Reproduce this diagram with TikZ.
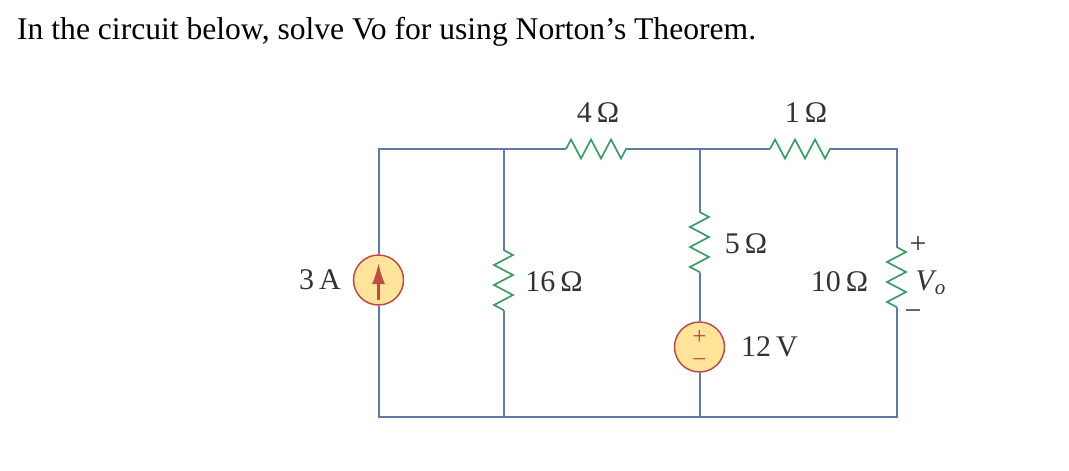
\documentclass[tikz,border=0pt]{standalone}
\usepackage{xcolor}
\usepackage{fontspec}
\setmainfont{Liberation Serif}
\usetikzlibrary{arrows.meta,decorations.pathmorphing}
\definecolor{wirecol}{HTML}{5F7AA3}
\definecolor{rescol}{HTML}{3F9A68}
\definecolor{srccol}{HTML}{C04A45}
\definecolor{srcfill}{HTML}{FFE49A}
\definecolor{txtcol}{HTML}{333333}
\tikzset{>=Latex}

\begin{document}
\begin{tikzpicture}[x=1pt,y=-1pt,
wire/.style={draw=wirecol, line width=2pt},
resistor/.style={draw=rescol, line width=1.7pt, decorate, decoration={zigzag, segment length=20pt, amplitude=9.5pt}},
source/.style={circle, draw=srccol, fill=srcfill, line width=1.5pt, minimum size=50pt, inner sep=0pt},
value/.style={text=txtcol, font=\fontsize{30}{30}\selectfont, inner sep=0pt},
sign/.style={text=srccol, inner sep=0pt, font=\fontsize{25}{25}\selectfont},
]
\useasboundingbox (0,0) rectangle (1069,471);
%Title
\node[anchor=base west, inner sep=0pt, font=\fontsize{31.6}{32}\selectfont](Title) at (17,39) {In the circuit below, solve Vo for using Norton’s Theorem.};

%Corners and junctions
\coordinate (TopLeft) at (378.5,149);
\coordinate (TopA) at (503.5,149);
\coordinate (TopB) at (699.5,149);
\coordinate (TopRight) at (896.5,149);
\coordinate (BotLeft) at (378.5,417);
\coordinate (BotA) at (503.5,417);
\coordinate (BotB) at (699.5,417);
\coordinate (BotRight) at (896.5,417);

%Resistor ends
\coordinate (R4a) at (566,149);
\coordinate (R4b) at (628,149);
\coordinate (R1a) at (770,149);
\coordinate (R1b) at (832,149);
\coordinate (R16a) at (503.5,250);
\coordinate (R16b) at (503.5,311);
\coordinate (R5a) at (699.5,212);
\coordinate (R5b) at (699.5,273);
\coordinate (R10a) at (896.5,247);
\coordinate (R10b) at (896.5,308);

%Sources
\node[source](CurrentSrc) at (378.5,280) {};
\node[source](VoltageSrc) at (699.5,347) {};
\coordinate (ArrowTail) at (378.5,300);
\coordinate (ArrowTip) at (378.5,263);

%Lines
\draw[wire] (CurrentSrc.north) -- (TopLeft) -- (R4a);
\draw[wire] (R4b) -- (R1a);
\draw[wire] (R1b) -- (TopRight) -- (R10a);
\draw[wire] (R10b) -- (BotRight) -- (BotLeft) -- (CurrentSrc.south);
\draw[wire] (TopA) -- (R16a);
\draw[wire] (R16b) -- (BotA);
\draw[wire] (TopB) -- (R5a);
\draw[wire] (R5b) -- (VoltageSrc.north);
\draw[wire] (VoltageSrc.south) -- (BotB);

%Resistors
\draw[resistor] (R4a) -- (R4b);
\draw[resistor] (R1a) -- (R1b);
\draw[resistor] (R16a) -- (R16b);
\draw[resistor] (R5a) -- (R5b);
\draw[resistor] (R10a) -- (R10b);

%Source marks
\draw[-{Latex[length=21pt,width=13pt]}, draw=srccol, fill=srccol, line width=2.4pt] (ArrowTail) -- (ArrowTip);
\node[sign](VPlus) at (699.5,337.5) {+};
\node[sign](VMinus) at (699.5,363) {−};

%Labels
\node[value](L4) at (598,113) {4\,Ω};
\node[value](L1) at (806,113) {1\,Ω};
\node[value](L3A) at (320,280) {3\,A};
\node[value](L16) at (554,282) {16\,Ω};
\node[value](L5) at (746,244) {5\,Ω};
\node[value](L12) at (769.5,347) {12\,V};
\node[value](L10) at (839.5,282) {10\,Ω};
\node[value](VoPlus) at (918,245) {+};
\node[value](VoLabel) at (930.5,283) {\textit{V}\kern-2pt\raisebox{-4pt}{\fontsize{21}{21}\selectfont\textit{o}}};
\node[value](VoMinus) at (913,315) {−};
\end{tikzpicture}
\end{document}
